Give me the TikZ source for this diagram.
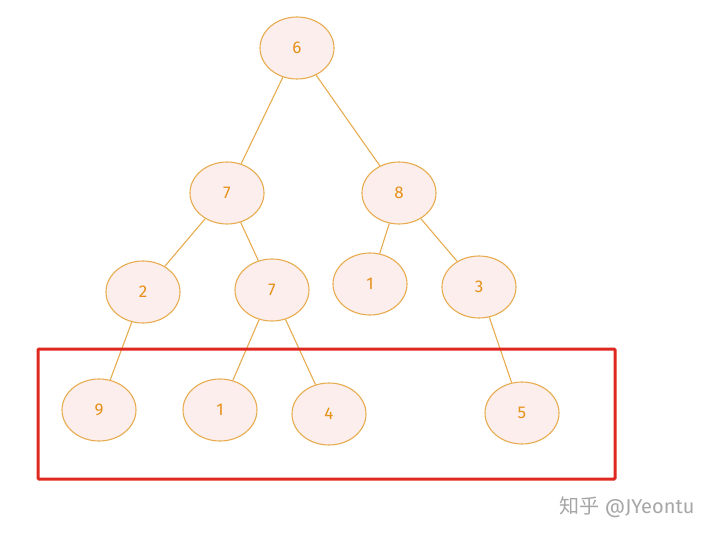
\documentclass[tikz,border=0pt]{standalone}
\usepackage{fontspec}
\setmainfont{Fira Sans}
\newfontfamily\cjk{Noto Sans CJK SC}
\usetikzlibrary{shapes.geometric}
\definecolor{nodeline}{RGB}{232,172,80}
\definecolor{nodefill}{RGB}{251,238,236}
\definecolor{numtext}{RGB}{230,145,25}
\definecolor{boxred}{RGB}{222,40,32}
\tikzstyle{num_node}=[ellipse,draw=nodeline,fill=nodefill,line width=1.1pt,inner sep=0pt,minimum width=74pt,minimum height=62pt,text=numtext,font=\fontsize{17}{20}\selectfont]
\tikzstyle{tree_edge}=[draw=nodeline,line width=1.1pt]

\begin{document}
\begin{tikzpicture}[x=1pt,y=-1pt]
\useasboundingbox (0,0) rectangle (720,537);
\node[num_node] (n6) at (297,48) {6};
\node[num_node] (n7) at (227,193) {7};\node[num_node] (n8) at (399,193) {8};
\node[num_node] (n2) at (143,292) {2};\node[num_node] (n7b) at (272,290) {7};
\node[num_node] (n1a) at (370,284) {1};\node[num_node] (n3) at (479,287) {3};
\node[num_node] (n9) at (99,410) {9};\node[num_node] (n1b) at (220,410) {1};
\node[num_node] (n4) at (329,414) {4};\node[num_node] (n5) at (522,413) {5};
\draw[tree_edge] (n6) -- (n7);\draw[tree_edge] (n6) -- (n8);
\draw[tree_edge] (n7) -- (n2);\draw[tree_edge] (n7) -- (n7b);
\draw[tree_edge] (n8) -- (n1a);\draw[tree_edge] (n8) -- (n3);
\draw[tree_edge] (n2) -- (n9);\draw[tree_edge] (n7b) -- (n1b);
\draw[tree_edge] (n7b) -- (n4);\draw[tree_edge] (n3) -- (n5);
\node[draw=boxred,line width=3pt,rounded corners=1pt,minimum width=577pt,minimum height=130pt] (lastrow) at (326.5,414) {};
\node[text=black!35,font=\fontsize{20}{24}\selectfont] (mark) at (627,507) {{\cjk 知乎} @JYeontu};
\end{tikzpicture}
\end{document}
